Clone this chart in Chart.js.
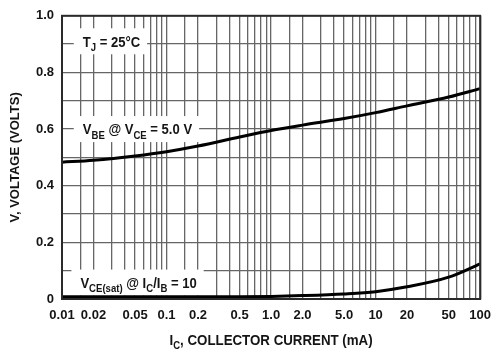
<!DOCTYPE html>
<html>
<head>
<meta charset="utf-8">
<script src="https://cdn.jsdelivr.net/npm/chart.js@4.4.1/dist/chart.umd.min.js"></script>
<style>
html,body{margin:0;padding:0;background:#fff;}
#wrap{width:500px;height:355px;position:relative;}
</style>
</head>
<body>
<div id="wrap"><canvas id="c" width="500" height="355"></canvas></div>
<script>
// ---- data ----
const currentMA = [0.01, 0.02, 0.05, 0.1, 0.2, 0.5, 1, 2, 5, 10, 20, 50, 100];
const vbe       = [0.483, 0.490, 0.505, 0.520, 0.540, 0.572, 0.595, 0.614, 0.637, 0.658, 0.682, 0.713, 0.743];
const vceSat    = [0.008, 0.008, 0.008, 0.008, 0.008, 0.008, 0.009, 0.012, 0.018, 0.026, 0.043, 0.077, 0.124];
const xTickLabels = ['0.01','0.02','0.05','0.1','0.2','0.5','1.0','2.0','5.0','10','20','50','100'];
const yTickLabels = ['0','0.2','0.4','0.6','0.8','1.0'];
const gridMantissas = [1, 1.5, 2, 3, 4, 5, 6, 7, 8, 9];
const gridDecades = [0.01, 0.1, 1, 10];

const FONT = '"Liberation Sans Narrow","Arial Narrow","Liberation Sans",Arial,sans-serif';
const TXT = '#141414';

const notes = [
  {parts: [['T',0],['J',1],[' = 25°C',0]], x: 0.0158, y: 0.91},
  {parts: [['V',0],['BE',1],[' @ V',0],['CE',1],[' = 5.0 V',0]], x: 0.0158, y: 0.6},
  {parts: [['V',0],['CE(sat)',1],[' @ I',0],['C',1],['/I',0],['B',1],[' = 10',0]], x: 0.0150, y: 0.058}
];

function richWidth(ctx, parts, size, sx){
  let w = 0;
  for (const [t, sub] of parts){
    ctx.font = 'bold ' + (sub ? Math.round(size*0.72) : size) + 'px ' + FONT;
    w += ctx.measureText(t).width;
  }
  return w * sx;
}
function drawRich(ctx, parts, x, y, size, sx){
  ctx.save();
  ctx.translate(x, y);
  ctx.scale(sx, 1);
  let cx = 0;
  ctx.textBaseline = 'alphabetic';
  ctx.textAlign = 'left';
  for (const [t, sub] of parts){
    ctx.font = 'bold ' + (sub ? Math.round(size*0.72) : size) + 'px ' + FONT;
    ctx.fillText(t, cx, sub ? size*0.28 : 0);
    cx += ctx.measureText(t).width;
  }
  ctx.restore();
}

const decor = {
  id: 'decor',
  beforeDatasetsDraw(chart){
    const {ctx, scales} = chart;
    ctx.save();
    const size = 15, sx = 0.87;
    for (const n of notes){
      const px = scales.x.getPixelForValue(n.x);
      const py = scales.y.getPixelForValue(n.y);
      const w = richWidth(ctx, n.parts, size, sx);
      ctx.fillStyle = '#fff';
      ctx.fillRect(px - 9, py - 13, w + 16, 26);
      ctx.fillStyle = TXT;
      drawRich(ctx, n.parts, px, py + size*0.36, size, sx);
    }
    ctx.restore();
  },
  afterDraw(chart){
    const {ctx, chartArea: a} = chart;
    ctx.save();
    ctx.strokeStyle = '#2a2a2a';
    ctx.lineWidth = 2;
    ctx.strokeRect(a.left, a.top, a.right - a.left, a.bottom - a.top);
    // x-axis title with subscript
    const parts = [['I',0],['C',1],[', COLLECTOR CURRENT (mA)',0]];
    const size = 14, sx = 0.95;
    const w = richWidth(ctx, parts, size, sx);
    ctx.fillStyle = TXT;
    drawRich(ctx, parts, (a.left + a.right)/2 - w/2, 345, size, sx);
    ctx.restore();
  }
};

new Chart(document.getElementById('c'), {
  type: 'line',
  data: {
    labels: currentMA,
    datasets: [
      {label: 'VBE @ VCE = 5.0 V', data: currentMA.map((x,i)=>({x, y: vbe[i]})),
       borderColor: '#000', borderWidth: 3, pointRadius: 0, cubicInterpolationMode: 'monotone', fill: false},
      {label: 'VCE(sat) @ IC/IB = 10', data: currentMA.map((x,i)=>({x, y: vceSat[i]})),
       borderColor: '#000', borderWidth: 3, pointRadius: 0, cubicInterpolationMode: 'monotone', fill: false}
    ]
  },
  options: {
    responsive: false,
    animation: false,
    devicePixelRatio: 1,
    layout: {padding: {left: 0, right: 19, top: 8, bottom: 0}},
    plugins: {legend: {display: false}, tooltip: {enabled: false}},
    scales: {
      x: {
        type: 'logarithmic', min: 0.01, max: 100,
        afterBuildTicks(scale){
          const vals = [];
          for (const d of gridDecades) for (const m of gridMantissas) vals.push(+(d*m).toPrecision(6));
          vals.push(100);
          scale.ticks = vals.map(v => ({value: v}));
        },
        afterFit(scale){ scale.height = 56; },
        grid: {color: '#666', lineWidth: 1.3, drawTicks: false},
        border: {display: false},
        ticks: {
          autoSkip: false, maxRotation: 0, minRotation: 0, padding: 9, color: TXT,
          font: {family: FONT, size: 13, weight: 'bold'},
          callback(value){
            const lab = xTickLabels.find(l => Math.abs(parseFloat(l) - value) < value*1e-6);
            return lab === undefined ? '' : lab;
          }
        }
      },
      y: {
        type: 'linear', min: 0, max: 1,
        afterFit(scale){ scale.width = 62; },
        grid: {color: '#666', lineWidth: 1.3, drawTicks: false},
        border: {display: false},
        ticks: {
          stepSize: 0.1, padding: 8, color: TXT,
          font: {family: FONT, size: 13, weight: 'bold'},
          callback(value){
            const k = Math.round(value*10);
            return k % 2 === 0 ? yTickLabels[k/2] : '';
          }
        },
        title: {display: true, text: 'V, VOLTAGE (VOLTS)', color: TXT,
                font: {family: FONT, size: 13, weight: 'bold'}, padding: {top: 8, bottom: 0}}
      }
    }
  },
  plugins: [decor]
});
</script>
</body>
</html>
